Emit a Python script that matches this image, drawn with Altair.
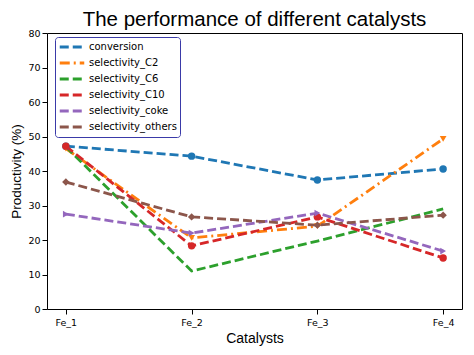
import altair as alt
import pandas as pd

catalysts = ["Fe_1", "Fe_2", "Fe_3", "Fe_4"]
series_names = ["conversion", "selectivity_C2", "selectivity_C6",
                "selectivity_C10", "selectivity_coke", "selectivity_others"]
conversion = [47.2, 44.3, 37.4, 40.6]
selectivity_C2 = [46.5, 20.6, 24.0, 49.3]
selectivity_C6 = [47.0, 11.0, 19.7, 29.0]
selectivity_C10 = [47.2, 18.3, 26.7, 14.8]
selectivity_coke = [27.5, 22.0, 27.8, 16.8]
selectivity_others = [36.8, 26.7, 24.3, 27.2]

values = [conversion, selectivity_C2, selectivity_C6,
          selectivity_C10, selectivity_coke, selectivity_others]
rows = []
for name, vals in zip(series_names, values):
    for c, v in zip(catalysts, vals):
        rows.append({"catalyst": c, "series": name, "value": v})
df = pd.DataFrame(rows)

colors = ["#1f77b4", "#ff7f0e", "#2ca02c", "#d62728", "#9467bd", "#8c564b"]
dashes = [[9, 4], [10, 4, 2, 4], [9, 4], [9, 4], [9, 4], [9, 4]]
shapes = ["circle", "triangle-down", None, "circle", "triangle-right", "diamond"]
sizes = [55, 45, 0, 55, 45, 55]

x_enc = alt.X("catalyst:N", sort=catalysts,
              scale=alt.Scale(type="point", padding=0.15),
              axis=alt.Axis(title="Catalysts", labelAngle=0, grid=False,
                            domain=False, tickColor="black", labelColor="black",
                            labelFont="DejaVu Sans", labelFontSize=9.5,
                            titleFont="Liberation Sans", titleFontSize=14,
                            titleFontWeight="normal", titleColor="black",
                            titlePadding=5, labelPadding=3))
y_enc = alt.Y("value:Q", scale=alt.Scale(domain=[0, 80], nice=False),
              axis=alt.Axis(title="Productivity (%)", values=list(range(0, 81, 10)),
                            grid=False, domain=False, tickColor="black",
                            labelColor="black", labelFont="DejaVu Sans",
                            labelFontSize=9.5, titleFont="Liberation Sans",
                            titleFontSize=13.5, titleFontWeight="normal",
                            titleColor="black", titlePadding=4))

lines = alt.Chart(df).mark_line(strokeWidth=2.8).encode(
    x=x_enc, y=y_enc,
    color=alt.Color("series:N", scale=alt.Scale(domain=series_names, range=colors),
                    sort=series_names,
                    legend=alt.Legend(title=None, orient="none", legendX=8, legendY=4,
                                      symbolType="stroke", symbolStrokeWidth=3,
                                      symbolSize=600, labelFontSize=10,
                                      labelFont="DejaVu Sans",
                                      labelColor="black", rowPadding=2,
                                      clipHeight=14,
                                      fillColor="white", strokeColor="#3a3aa8",
                                      cornerRadius=3, padding=3, labelOffset=3)),
    strokeDash=alt.StrokeDash("series:N", sort=series_names,
                              scale=alt.Scale(domain=series_names, range=dashes),
                              legend=alt.Legend(title=None, orient="none", legendX=8, legendY=4)),
)

layers = [lines]
for name, col, shp, sz in zip(series_names, colors, shapes, sizes):
    if shp is None:
        continue
    layers.append(
        alt.Chart(df).transform_filter(alt.datum.series == name)
        .mark_point(filled=True, size=sz, opacity=1, color=col, shape=shp)
        .encode(x=x_enc, y=y_enc)
    )

chart = alt.layer(*layers).properties(
    width=415, height=276,
    title=alt.TitleParams("The performance of different catalysts", fontSize=20.5,
                          fontWeight="normal", font="Liberation Sans", color="black",
                          offset=-2),
    autosize=alt.AutoSizeParams(type="none"),
    padding={"left": 39, "top": 25, "right": 4, "bottom": 40},
).configure_view(stroke="black", strokeWidth=1)

chart.save("out.html", embed_options={"renderer": "svg", "actions": False})
